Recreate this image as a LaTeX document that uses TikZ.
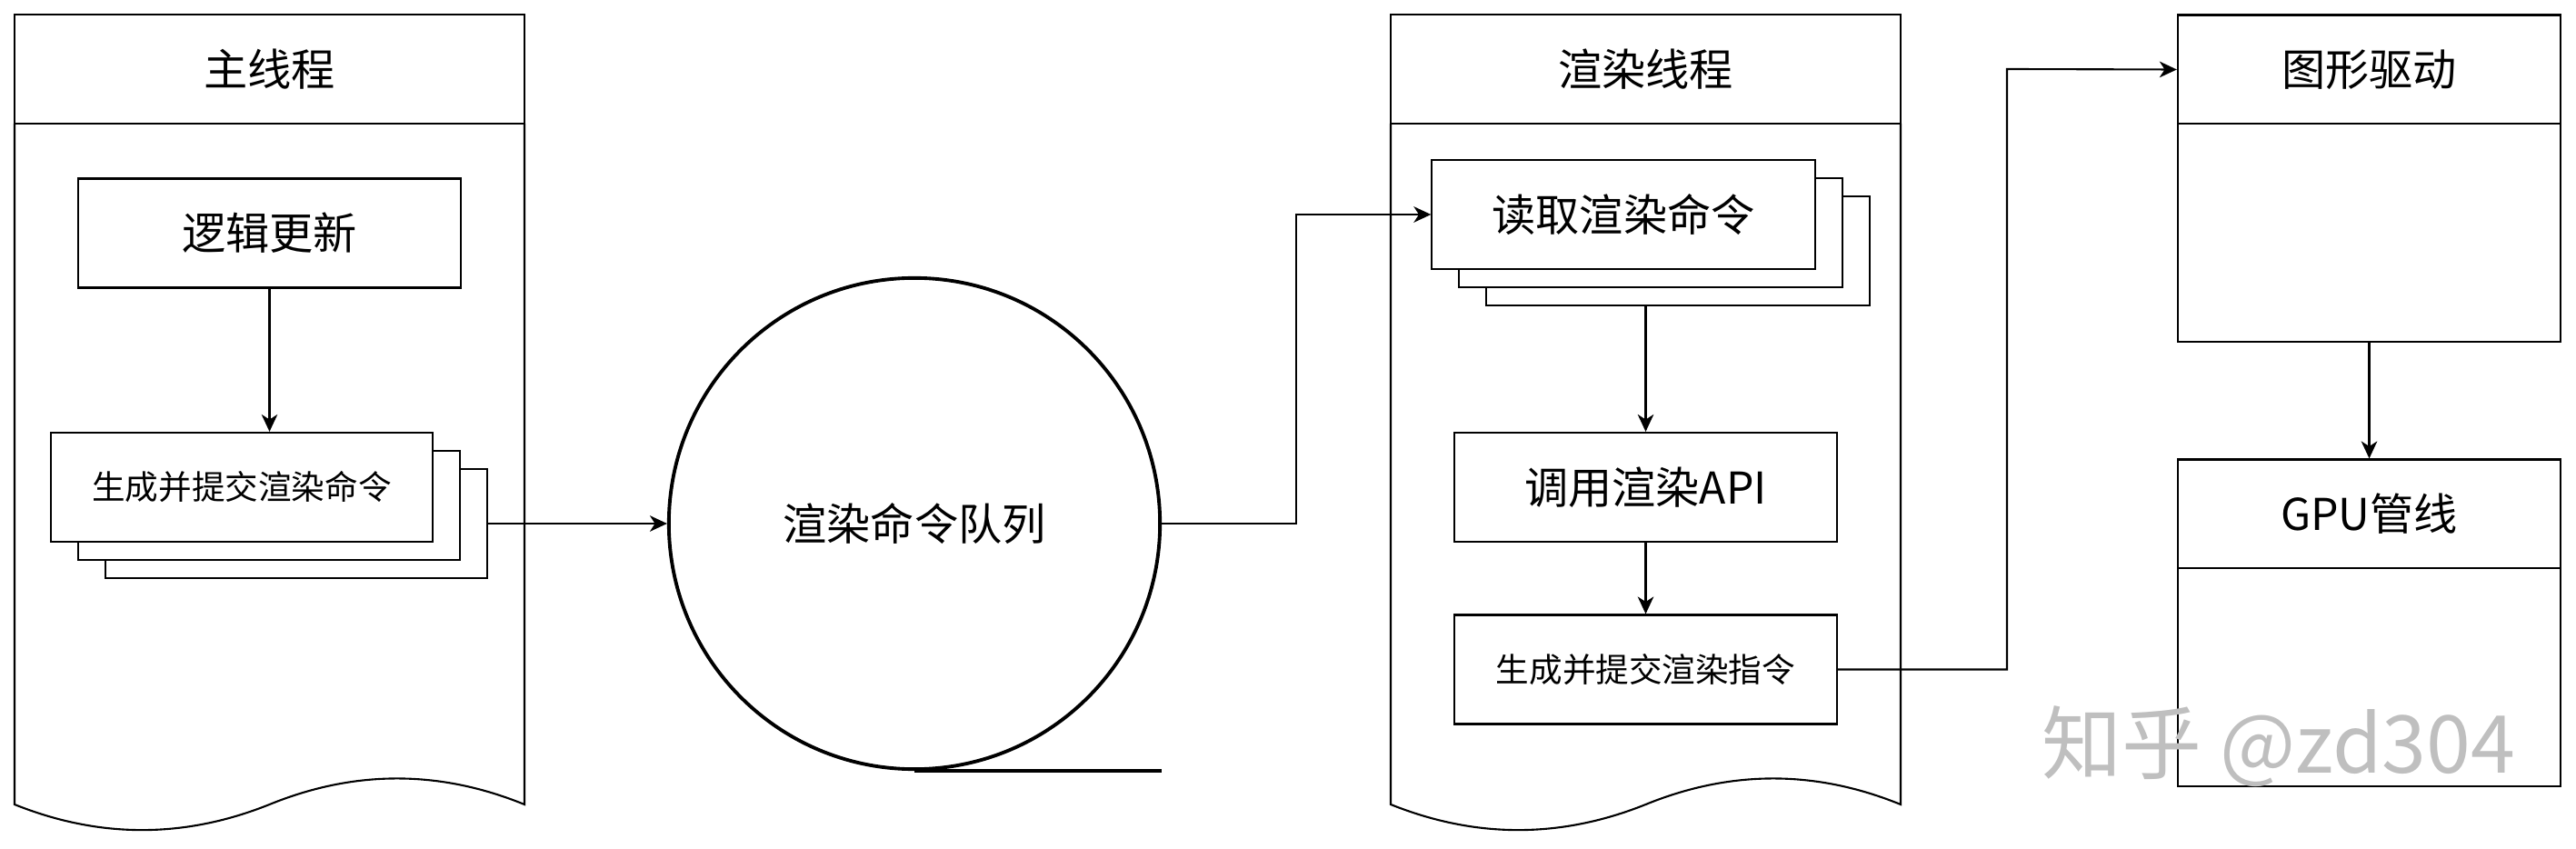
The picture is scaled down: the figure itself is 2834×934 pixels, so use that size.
\documentclass[tikz,border=0pt]{standalone}
\usepackage{fontspec}
\setmainfont{Noto Sans CJK SC}
\usetikzlibrary{arrows.meta}

\begin{document}
\begin{tikzpicture}[x=0.01cm, y=-0.01cm, line width=0.6pt,
    bigtext/.style={font=\fontsize{13.7}{16}\selectfont},
    smalltext/.style={font=\fontsize{10.4}{13}\selectfont},
    box/.style={draw, fill=white, inner sep=0pt, minimum width=4.21cm, minimum height=1.2cm},
    lanehead/.style={draw, inner sep=0pt, minimum width=5.61cm, minimum height=1.2cm, bigtext},
    flow/.style={-{Stealth[length=5.4pt, width=5pt, inset=1.6pt]}}]
    % Page frame
    \useasboundingbox (0,0) rectangle (2834,934);

    % Bend points of the long connectors
    \coordinate (bendA) at (1426,236);
    \coordinate (bendB) at (2208,76);

    % Lane headers
    \node[lanehead] (mainlane) at (296.5,76) {主线程};
    \node[lanehead] (renderlane) at (1810.5,76) {渲染线程};

    % Lane bodies with the wavy bottom
    \foreach \lx in {16,1530}
        \draw (\lx,136) -- (\lx,885)
            .. controls ({\lx+93.5},922.5) and ({\lx+187},922.5) .. ({\lx+280.5},885)
            .. controls ({\lx+374},846.9) and ({\lx+467.5},846.9) .. ({\lx+561},885)
            -- ({\lx+561},136);

    % Main thread
    \node[box, bigtext] (logic) at (296.5,256.5) {逻辑更新};
    \node[box, minimum width=4.2cm] (submit3) at (326,576) {};
    \node[box, minimum width=4.2cm] (submit2) at (296,556) {};
    \node[box, minimum width=4.2cm, smalltext] (submit) at (266,536) {生成并提交渲染命令};

    % Command queue
    \node[circle, draw, line width=1.1pt, minimum size=5.4cm, inner sep=0pt, bigtext] (queue) at (1006,576) {渲染命令队列};
    \draw[line width=1.1pt] (queue.south) -- (queue.south -| queue.east);

    % Render thread
    \node[box] (read3) at (1846,276) {};
    \node[box] (read2) at (1816,256) {};
    \node[box, bigtext] (read) at (1786,236) {读取渲染命令};
    \node[box, bigtext] (api) at (1810.5,536) {调用渲染API};
    \node[box, smalltext] (instr) at (1810.5,736.5) {生成并提交渲染指令};

    % Driver and GPU
    \node[box, bigtext] (driver) at (2606.5,76.5) {图形驱动};
    \node[box, minimum height=2.4cm] (driverbody) at (2606.5,256) {};
    \node[box, bigtext] (gpu) at (2606.5,565.5) {GPU管线};
    \node[box, minimum height=2.4cm] (gpubody) at (2606.5,745) {};

    % Watermark
    \node[text=gray!50, font=\fontsize{25}{29}\selectfont] (mark) at (2507,821) {知乎 @zd304};

    % Connectors
    \draw[flow] (logic.south) -- (logic.south |- submit.north);
    \draw[flow] (submit3.east) -- (queue.west);
    \draw[flow] (queue.east) -| (bendA) -- (read.west);
    \draw[flow] (api.north |- read3.south) -- (api.north);
    \draw[flow] (api) -- (instr);
    \draw[flow] (instr.east) -| (bendB) -- (driver.west);
    \draw[flow] (driverbody) -- (gpu);
\end{tikzpicture}
\end{document}
